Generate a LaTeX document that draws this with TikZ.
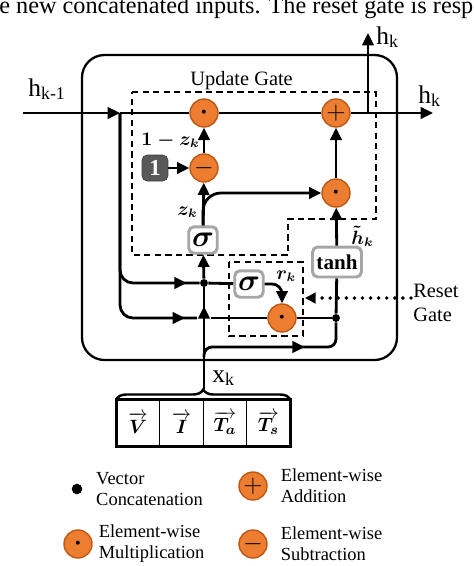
\documentclass[tikz,border=0pt]{standalone}
\usepackage{amsmath, amssymb}
\usepackage{fontspec}
\setmainfont{Liberation Serif}
\usepackage{tikz}
\usetikzlibrary{shapes, arrows.meta, positioning, calc, decorations.pathreplacing, decorations.markings}
\definecolor{op-orange}{RGB}{237,125,49}
\definecolor{op-edge}{RGB}{190,88,20}
\definecolor{gate-gray}{RGB}{166,166,166}
\definecolor{one-gray}{RGB}{89,89,89}

\begin{document}
\begin{tikzpicture}[
    x=0.02cm, y=-0.02cm,
    wire/.style={line width=1.6pt},
    arrow/.style={wire, -{Triangle[length=7pt,width=6.5pt]}},
    midarrow/.style={wire, postaction={decorate}, decoration={markings, mark=at position #1 with {\arrow{Triangle[length=7pt,width=6.5pt]}}}},
    op/.style={circle, draw=op-edge, fill=op-orange, line width=0.8pt, minimum size=0.56cm, inner sep=0pt, font=\fontsize{14}{14}\selectfont},
    gate/.style={rectangle, draw=gate-gray, fill=white, line width=1.7pt, rounded corners=3pt, minimum width=0.57cm, minimum height=0.53cm, inner sep=1pt},
    onebox/.style={rectangle, draw=one-gray!70!black, fill=one-gray, rounded corners=3pt, minimum size=0.52cm, inner sep=0pt, text=white, font=\bfseries\fontsize{13}{13}\selectfont},
    joint/.style={circle, fill=black, inner sep=0pt, minimum size=4.5pt},
    frame/.style={line width=1.1pt, dash pattern=on 3.6pt off 2.4pt},
    lbl/.style={inner sep=0pt, font=\fontsize{14.5}{16}\selectfont},
    mlbl/.style={inner sep=0pt, font=\fontsize{10.5}{12}\selectfont},
    note/.style={inner sep=0pt, align=left, font=\fontsize{11.6}{13.6}\selectfont},
    legtext/.style={inner sep=1pt, align=left, font=\fontsize{10.5}{12}\selectfont},
    cell/.style={rectangle, draw, line width=0.6pt, outer sep=0pt, minimum width=0.87cm, minimum height=0.94cm, inner sep=0pt, font=\fontsize{11}{12}\selectfont}
]
\useasboundingbox (0,0) rectangle (474,566);

% caption line cut by the screenshot
\begin{scope}
\clip (0,0) rectangle (474,30);
\node[anchor=base west, inner sep=0pt, font=\fontsize{13.8}{14}\selectfont] (caption) at (-1,13) {e new concatenated inputs. The reset gate is resp};
\end{scope}

% cell outline and gates
\draw[line width=1.3pt, rounded corners=0.45cm] (82,55) rectangle (397,360);
\draw[frame] (132,92) -- (376,92) -- (376,219) -- (288,219) -- (288,255) -- (132,255) -- cycle;
\draw[frame] (229,262) rectangle (303,336);
\node[note, anchor=base west] (uglbl) at (190,85) {Update Gate};

% operators
\coordinate (hin) at (23,113);
\coordinate (split) at (120,113);
\node[op] (mtop) at (204,113) {$\boldsymbol{\cdot}$};
\node[op] (add) at (336,113) {$+$};
\coordinate (hup) at (368,113);
\coordinate (htop) at (368,33);
\coordinate (hout) at (433,113);
\node[op] (minus) at (204,168) {$-$};
\node[onebox] (one) at (155,168) {1};
\node[gate] (sigz) at (203,240) {\fontsize{17}{17}\selectfont$\boldsymbol{\sigma}$};
\node[op] (mrz) at (336,193) {$\boldsymbol{\cdot}$};
\node[gate, minimum width=0.98cm, minimum height=0.6cm] (tanh) at (337,262) {\bfseries\fontsize{12}{12}\selectfont tanh};
\node[joint] (cat) at (204,283) {};
\node[gate] (sigr) at (249,284) {\fontsize{17}{17}\selectfont$\boldsymbol{\sigma}$};
\node[op] (mr) at (282,318) {$\boldsymbol{\cdot}$};
\node[joint] (cat2) at (336,318) {};
\coordinate (gapl) at (197,318);
\coordinate (gapr) at (211,318);
\coordinate (xin) at (204,389);
\coordinate (xsplit) at (204,357);
\coordinate (xbend) at (336,347);

% labels
\node[lbl, anchor=base west] (hinlbl) at (28,96) {h\textsubscript{k-1}};
\node[lbl, anchor=base west] (htoplbl) at (376,44) {h\textsubscript{k}};
\node[lbl, anchor=base west] (houtlbl) at (418,103) {h\textsubscript{k}};
\node[lbl, anchor=base west] (xlbl) at (212,382) {x\textsubscript{k}};
\node[mlbl, anchor=base west] (omzlbl) at (141,145) {$\boldsymbol{1-z_k}$};
\node[mlbl, anchor=base west] (zlbl) at (177,215) {$\boldsymbol{z_k}$};
\node[mlbl, anchor=base west] (rlbl) at (276,279) {$\boldsymbol{r_k}$};
\node[mlbl, anchor=base west] (htlbl) at (351,244) {$\boldsymbol{\tilde{h}_k}$};
\node[note, anchor=north west] (rglbl) at (413,284) {Reset\\Gate};
\coordinate (rgtail) at (411,298);
\coordinate (rgtip) at (305,298);

% connections
\draw[arrow] (hin) -- (split);
\draw[wire] (split) -- (mtop);
\draw[wire] (mtop) -- (add);
\draw[arrow] (add) -- (hout);
\draw[arrow] (hup) -- (htop);
\draw[midarrow=-0.26cm, rounded corners=0.26cm] (split) |- (cat);
\draw[midarrow=-0.24cm, rounded corners=0.26cm] (split) |- (gapl);
\draw[wire] (gapr) -- (mr);
\draw[midarrow=-0.38cm] (xin) -- (cat);
\draw[midarrow=-1.05cm, rounded corners=0.16cm] (xsplit) |- (xbend) -- (cat2);
\draw[arrow] (cat) -- (sigz);
\draw[wire] (cat) -- (sigr);
\draw[arrow, rounded corners=0.2cm] (sigr) -| (mr);
\draw[wire] (mr) -- (cat2);
\draw[wire] (cat2) -- (tanh);
\draw[arrow] (tanh) -- (mrz);
\draw[arrow] (mrz) -- (add);
\draw[arrow] (sigz) -- (minus);
\draw[arrow, rounded corners=0.36cm] (sigz.north) |- (mrz);
\draw[arrow] (one) -- (minus);
\draw[arrow] (minus) -- (mtop);
\draw[line width=2.2pt, line cap=round, dash pattern=on 0pt off 4.6pt, -{Triangle[length=6pt,width=6pt]}] (rgtail) -- (rgtip);

% input vector
\node[cell] (cv) at (138,423) {$\overrightarrow{\boldsymbol{V}}$};
\node[cell, right=0pt of cv] (ci) {$\overrightarrow{\boldsymbol{I}}$};
\node[cell, right=0pt of ci] (cta) {$\overrightarrow{\boldsymbol{T_a}}$};
\node[cell, right=0pt of cta] (cts) {$\overrightarrow{\boldsymbol{T_s}}$};
\draw[line width=1.5pt] (cv.north west) rectangle (cts.south east);
\draw[line width=1.4pt, decorate, decoration={brace, amplitude=0.2cm}] (cv.north west) -- (cts.north east);

% legend
\node[joint, minimum size=6pt] (lgcat) at (77,489) {};
\node[legtext, right=0.23cm of lgcat] (lgcattxt) {Vector\\Concatenation};
\node[op] (lgadd) at (253,486) {$+$};
\node[legtext, right=0.22cm of lgadd] (lgaddtxt) {Element-wise\\Addition};
\node[op] (lgmul) at (78,544) {$\boldsymbol{\cdot}$};
\node[legtext, right=0.08cm of lgmul] (lgmultxt) {Element-wise\\Multiplication};
\node[op] (lgsub) at (253,544) {$-$};
\node[legtext, right=0.22cm of lgsub] (lgsubtxt) {Element-wise\\Subtraction};

\end{tikzpicture}
\end{document}
